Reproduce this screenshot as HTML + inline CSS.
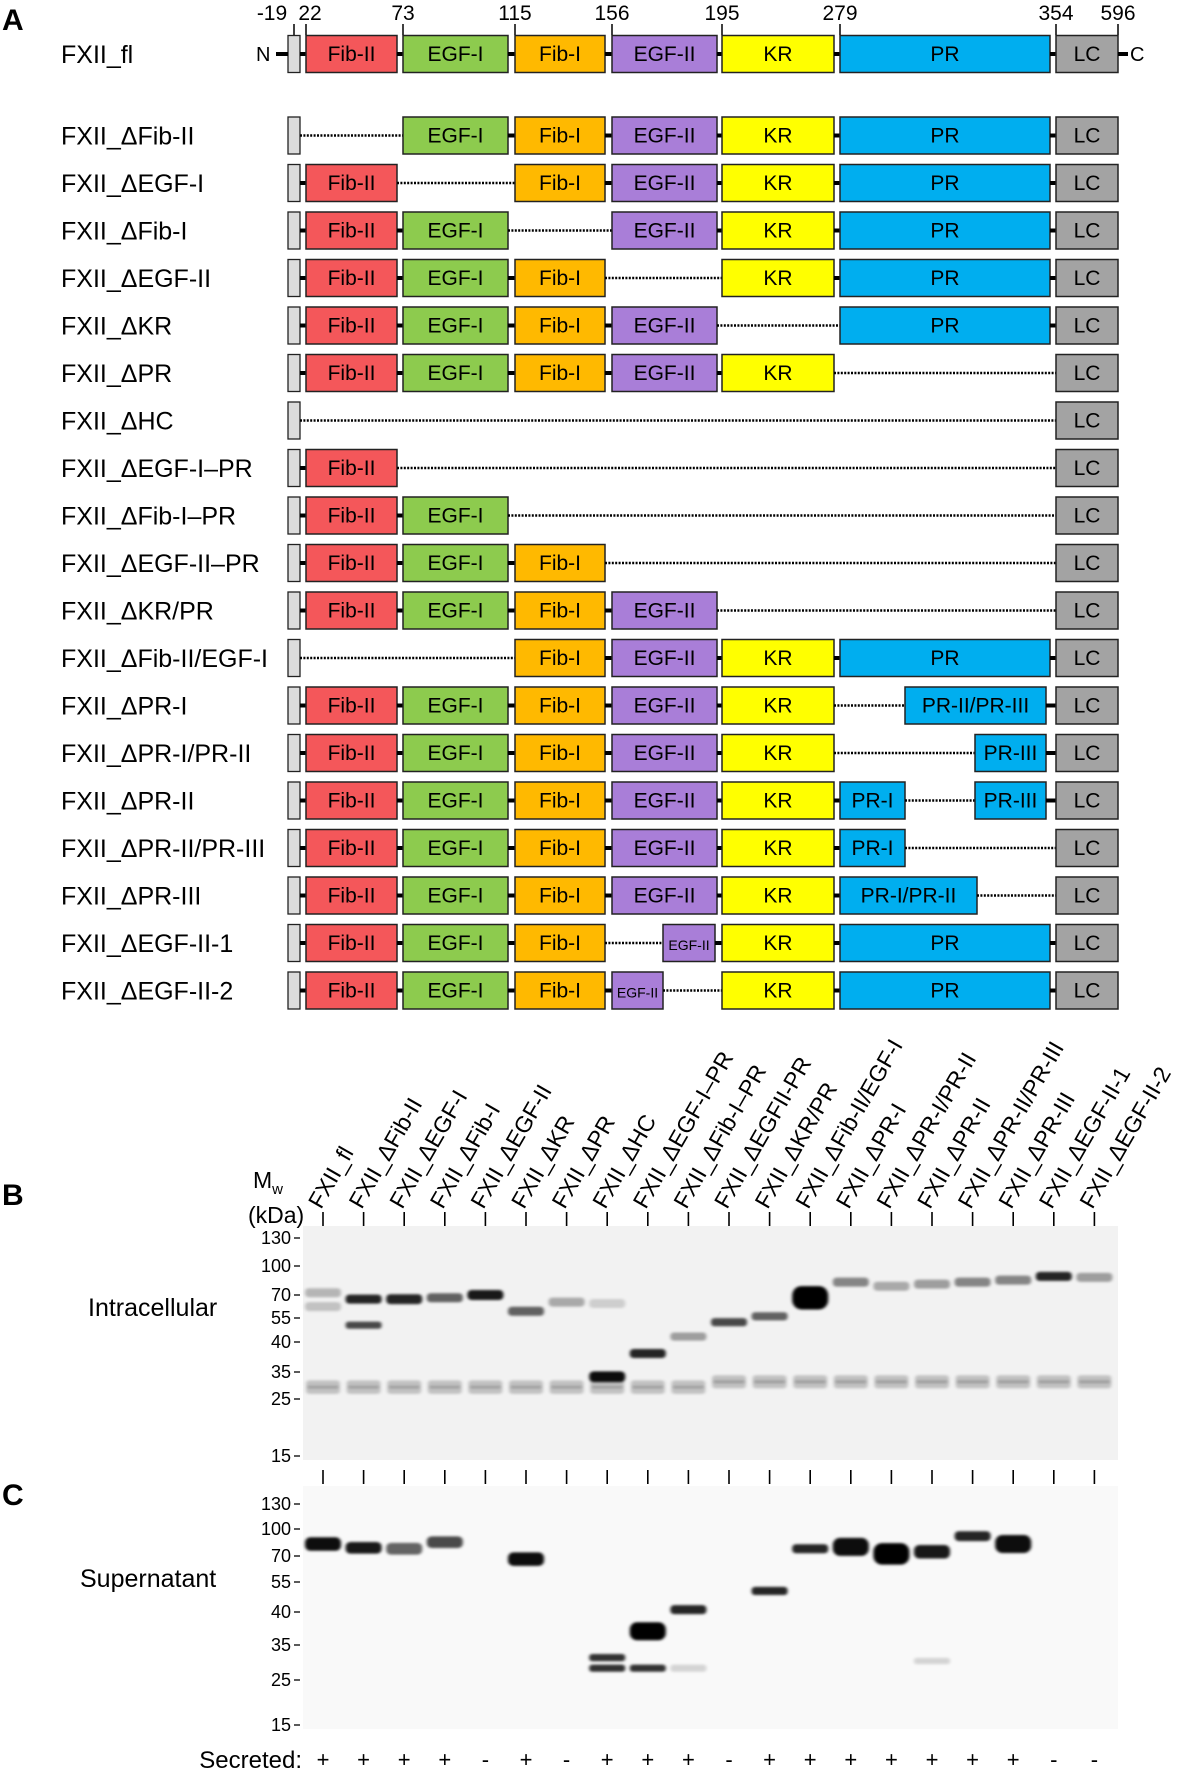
<!DOCTYPE html>
<html><head><meta charset="utf-8"><style>
html,body{margin:0;padding:0;background:#fff}
svg{display:block;font-family:"Liberation Sans",sans-serif}
</style></head><body>
<svg id="fig" width="1200" height="1771" viewBox="0 0 1200 1771" xmlns="http://www.w3.org/2000/svg">
<defs>
<filter id="blur" x="-30%" y="-100%" width="160%" height="300%"><feGaussianBlur stdDeviation="1.6 1.4"/></filter>
</defs>
<g id="panelA"></g>
<g id="panelB"></g>
<g id="panelC"></g>
</svg>
<script>
const NS="http://www.w3.org/2000/svg";
function mk(parent,tag,attrs,text){const e=document.createElementNS(NS,tag);for(const k in attrs)e.setAttribute(k,attrs[k]);if(text!==undefined)e.textContent=text;parent.appendChild(e);return e;}

// ---------- Panel A data ----------
const domainColors={"Fib-II":"#f4575a","EGF-I":"#8dcb4e","Fib-I":"#ffb900","EGF-II":"#a97ed8","KR":"#ffff00","PR":"#00aeef","LC":"#a3a3a3"};
const boundaryLabels=["-19","22","73","115","156","195","279","354","596"];
const boundaryX=[294,306,403,515,612,722,840,1056,1118];
const rowNames=["FXII_fl","FXII_ΔFib-II","FXII_ΔEGF-I","FXII_ΔFib-I","FXII_ΔEGF-II","FXII_ΔKR","FXII_ΔPR","FXII_ΔHC","FXII_ΔEGF-I–PR","FXII_ΔFib-I–PR","FXII_ΔEGF-II–PR","FXII_ΔKR/PR","FXII_ΔFib-II/EGF-I","FXII_ΔPR-I","FXII_ΔPR-I/PR-II","FXII_ΔPR-II","FXII_ΔPR-II/PR-III","FXII_ΔPR-III","FXII_ΔEGF-II-1","FXII_ΔEGF-II-2"];
const S={fib2:["Fib-II","Fib-II",306,397],egf1:["EGF-I","EGF-I",403,508],fib1:["Fib-I","Fib-I",515,605],egf2:["EGF-II","EGF-II",612,717],kr:["KR","KR",722,834],pr:["PR","PR",840,1050],lc:["LC","LC",1056,1118]};
const rowSegs=[
 [S.fib2,S.egf1,S.fib1,S.egf2,S.kr,S.pr,S.lc],
 [S.egf1,S.fib1,S.egf2,S.kr,S.pr,S.lc],
 [S.fib2,S.fib1,S.egf2,S.kr,S.pr,S.lc],
 [S.fib2,S.egf1,S.egf2,S.kr,S.pr,S.lc],
 [S.fib2,S.egf1,S.fib1,S.kr,S.pr,S.lc],
 [S.fib2,S.egf1,S.fib1,S.egf2,S.pr,S.lc],
 [S.fib2,S.egf1,S.fib1,S.egf2,S.kr,S.lc],
 [S.lc],
 [S.fib2,S.lc],
 [S.fib2,S.egf1,S.lc],
 [S.fib2,S.egf1,S.fib1,S.lc],
 [S.fib2,S.egf1,S.fib1,S.egf2,S.lc],
 [S.fib1,S.egf2,S.kr,S.pr,S.lc],
 [S.fib2,S.egf1,S.fib1,S.egf2,S.kr,["PR-II/PR-III","PR",905,1046],S.lc],
 [S.fib2,S.egf1,S.fib1,S.egf2,S.kr,["PR-III","PR",975,1046],S.lc],
 [S.fib2,S.egf1,S.fib1,S.egf2,S.kr,["PR-I","PR",840,905],["PR-III","PR",975,1046],S.lc],
 [S.fib2,S.egf1,S.fib1,S.egf2,S.kr,["PR-I","PR",840,905],S.lc],
 [S.fib2,S.egf1,S.fib1,S.egf2,S.kr,["PR-I/PR-II","PR",840,977],S.lc],
 [S.fib2,S.egf1,S.fib1,["EGF-II","EGF-II",663,715,"s"],S.kr,S.pr,S.lc],
 [S.fib2,S.egf1,S.fib1,["EGF-II","EGF-II",612,663,"s"],S.kr,S.pr,S.lc]
];
const A=document.getElementById('panelA');
mk(A,'text',{x:2,y:30,'font-size':30,'font-weight':'bold',},'A');
function rowY(i){return i===0?54:135.5+(i-1)*47.5;}
const BH=37;
boundaryLabels.forEach((l,i)=>{
  const x=boundaryX[i];
  mk(A,'text',{x:i===0?x-22:(i===1?x+4:x),y:20,'font-size':21,'text-anchor':'middle',},l);
  mk(A,'line',{x1:x,x2:x,y1:24,y2:35,stroke:'#000','stroke-width':1.5,});
});
rowNames.forEach((name,i)=>{
  const y=rowY(i), g=mk(A,'g',{});
  mk(g,'text',{x:61,y:y+9,'font-size':25,},name);
  mk(g,'rect',{x:288,y:y-BH/2,width:12,height:BH,fill:'#dcdcdc',stroke:'#222','stroke-width':1.3,});
  const segs=rowSegs[i];
  let prev=300;
  segs.forEach(s=>{
    const gap=s[2]-prev;
    if(gap>14){
      mk(g,'line',{x1:prev,x2:s[2],y1:y,y2:y,stroke:'#000','stroke-width':2.5,'stroke-dasharray':'2 1.4',});
    } else {
      mk(g,'line',{x1:prev,x2:s[2],y1:y,y2:y,stroke:'#000','stroke-width':4,});
    }
    mk(g,'rect',{x:s[2],y:y-BH/2,width:s[3]-s[2],height:BH,fill:domainColors[s[1]],stroke:'#222','stroke-width':1.5,});
    mk(g,'text',{x:(s[2]+s[3])/2,y:y+7,'font-size':s[4]?14:21,'text-anchor':'middle',},s[0]);
    prev=s[3];
  });
  if(i===0){
    mk(g,'line',{x1:276,x2:288,y1:y,y2:y,stroke:'#000','stroke-width':4,});
    mk(g,'line',{x1:1118,x2:1128,y1:y,y2:y,stroke:'#000','stroke-width':4,});
    mk(g,'text',{x:256,y:y+7,'font-size':20,},'N');
    mk(g,'text',{x:1130,y:y+7,'font-size':20,},'C');
  }
});

// ---------- Blots data ----------
const laneNames=["FXII_fl","FXII_ΔFib-II","FXII_ΔEGF-I","FXII_ΔFib-I","FXII_ΔEGF-II","FXII_ΔKR","FXII_ΔPR","FXII_ΔHC","FXII_ΔEGF-I–PR","FXII_ΔFib-I–PR","FXII_ΔEGFII-PR","FXII_ΔKR/PR","FXII_ΔFib-II/EGF-I","FXII_ΔPR-I","FXII_ΔPR-I/PR-II","FXII_ΔPR-II","FXII_ΔPR-II/PR-III","FXII_ΔPR-III","FXII_ΔEGF-II-1","FXII_ΔEGF-II-2"];
const markerLabels=[130,100,70,55,40,35,25,15];
const markerYB=[1238,1266,1295,1318,1342,1372,1399,1456];
const markerYC=[1504,1529,1556,1582,1612,1645,1680,1725];
const secreted=["+","+","+","+","-","+","-","+","+","+","-","+","+","+","+","+","+","+","-","-"];
const intraBands=[[0,72,0.25,1],[0,62,0.2,1],[1,67,0.85,1],[1,50,0.7,0.8],[2,67,0.85,1.1],[3,68,0.6,1],[4,70,0.9,1.1],[5,59,0.6,1],[6,65,0.3,1],[7,64,0.15,1],[7,33,0.95,1.2],[8,38,0.85,1],[9,43,0.35,0.9],[10,52,0.7,0.9],[11,56,0.6,0.9],[12,68,1,2.6],[13,82,0.45,1],[14,78,0.3,1],[15,80,0.35,1],[16,82,0.45,1],[17,84,0.45,1],[18,88,0.85,1],[19,87,0.35,1]];
const intraBackground=[30,28];
const superBands=[[0,82,0.95,1.5],[1,78,0.9,1.3],[2,77,0.6,1.3],[3,84,0.7,1.3],[5,68,0.95,1.5],[7,31,0.8,0.8],[7,28,0.8,0.8],[8,37,1,2],[8,28,0.8,0.8],[9,41,0.85,1],[9,28,0.15,0.8],[11,50,0.85,0.9],[12,77,0.85,1],[13,79,0.95,2],[14,72,1,2.4],[15,74,0.9,1.5],[16,91,0.85,1.1],[17,82,0.95,2],[15,30,0.15,0.7]];

const laneX0=323, laneStep=40.6;
function laneX(i){return laneX0+i*laneStep;}
function mwToY(kda,ys){
  const L=markerLabels.map(Math.log), v=Math.log(kda);
  for(let k=0;k<L.length-1;k++){
    if(v<=L[k]&&v>=L[k+1]){const t=(L[k]-v)/(L[k]-L[k+1]);return ys[k]+t*(ys[k+1]-ys[k]);}
  }
  if(v>L[0])return ys[0]-(v-L[0])/(L[0]-L[1])*(ys[1]-ys[0]);
  return ys[ys.length-1];
}

function drawBlot(G,ys,y0,y1,bg,bands,name,bgBands){
  mk(G,'rect',{x:303,y:y0,width:815,height:y1-y0,fill:bg,});
  markerLabels.forEach((m,k)=>{
    mk(G,'text',{x:291,y:ys[k]+6,'font-size':18,'text-anchor':'end',},m);
    mk(G,'line',{x1:294,x2:300,y1:ys[k],y2:ys[k],stroke:'#000','stroke-width':1.3,});
  });
  if(bgBands){
    for(let l=0;l<laneNames.length;l++){
      bgBands.forEach(kd=>{
        const by=mwToY(kd+(l>9?2:0),ys);
        const r=mk(G,'rect',{x:laneX(l)-17,y:by-4,width:34,height:8,rx:3,fill:'#000','fill-opacity':0.2,filter:'url(#blur)'});
        
        
      });
    }
  }
  bands.forEach(b=>{
    const by=mwToY(b[1],ys), h=9*b[3];
    const r=mk(G,'rect',{x:laneX(b[0])-18,y:by-h/2,width:36,height:h,rx:h/2.5,fill:'#000','fill-opacity':b[2],filter:'url(#blur)'});
    
    
  });
}

const B=document.getElementById('panelB');
mk(B,'text',{x:2,y:1205,'font-size':30,'font-weight':'bold',},'B');
const mw=mk(B,'text',{x:253,y:1188,'font-size':23,},'M');
mk(mw,'tspan',{'font-size':15,dy:6},'w');
mk(B,'text',{x:248,y:1223,'font-size':23,},'(kDa)');
laneNames.forEach((n,i)=>{
  const x=laneX(i);
  mk(B,'text',{x:x-2,y:1210,'font-size':23,transform:`rotate(-60 ${x-2} 1210)`,},n);
  mk(B,'line',{x1:x,x2:x,y1:1212,y2:1227,stroke:'#000','stroke-width':1.6,});
  mk(B,'line',{x1:x,x2:x,y1:1470,y2:1484,stroke:'#000','stroke-width':1.6,});
});
mk(B,'text',{x:88,y:1316,'font-size':25,},'Intracellular');
drawBlot(B,markerYB,1226,1460,'#f2f2f2',intraBands,'intracellular',intraBackground);

const C=document.getElementById('panelC');
mk(C,'text',{x:2,y:1505,'font-size':30,'font-weight':'bold',},'C');
mk(C,'text',{x:80,y:1587,'font-size':25,},'Supernatant');
drawBlot(C,markerYC,1486,1729,'#f9f9f9',superBands,'supernatant',null);
mk(C,'text',{x:302,y:1768,'font-size':24,'text-anchor':'end',},'Secreted:');
secreted.forEach((s,i)=>{
  const t=mk(C,'text',{x:laneX(i),y:1767,'font-size':22,'text-anchor':'middle'},s);
  
  
});
</script>
</body></html>
